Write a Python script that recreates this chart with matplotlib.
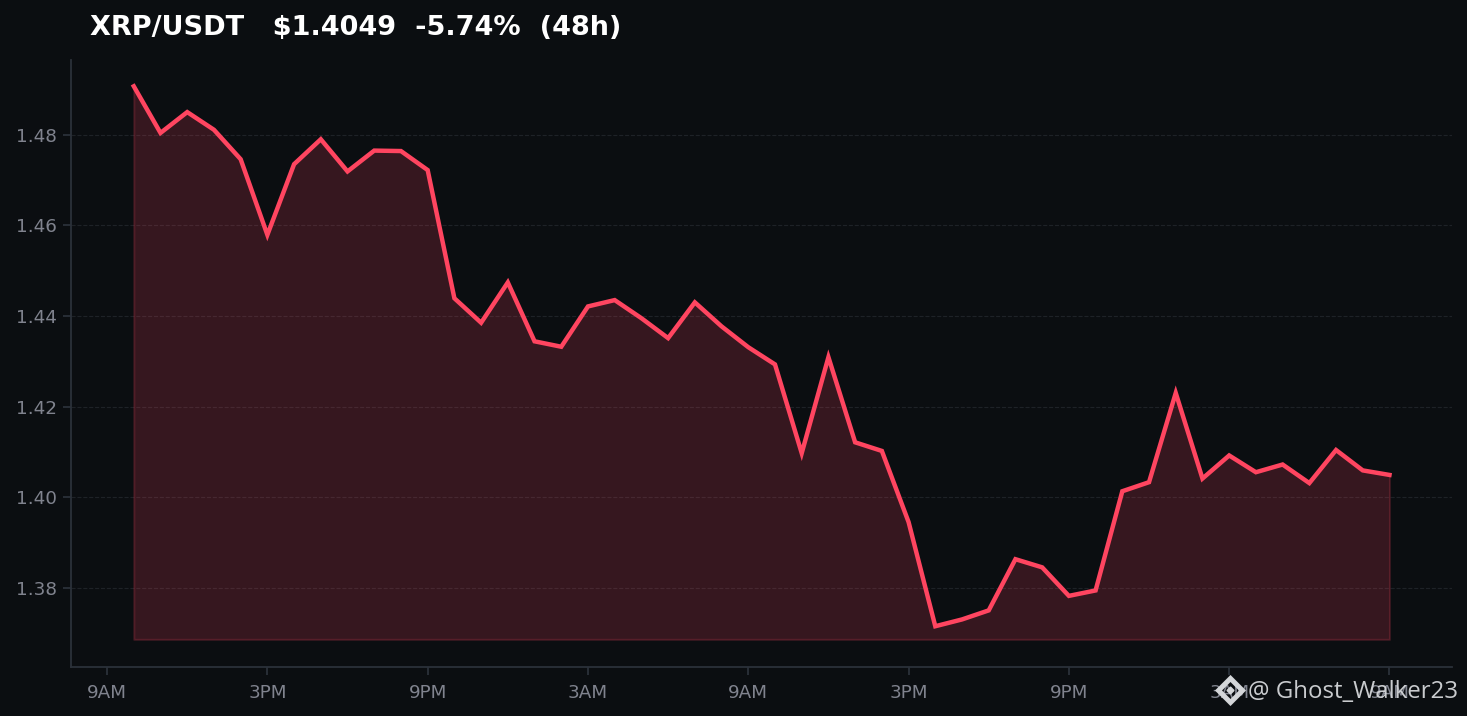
import matplotlib
matplotlib.use('Agg')
import matplotlib.pyplot as plt
from matplotlib.lines import Line2D

# hours since the 9AM tick on the left
hours = list(range(1, 49))
price = [1.4907, 1.4804, 1.4850, 1.4811, 1.4746, 1.4579, 1.4735, 1.4790,
         1.4719, 1.4765, 1.4764, 1.4722, 1.4439, 1.4385, 1.4474, 1.4344,
         1.4332, 1.4421, 1.4435, 1.4395, 1.4351, 1.4430, 1.4377, 1.4331,
         1.4293, 1.4097, 1.4309, 1.4121, 1.4102, 1.3945, 1.3715, 1.3730,
         1.3750, 1.3863, 1.3845, 1.3782, 1.3794, 1.4013, 1.4033, 1.4230,
         1.4041, 1.4092, 1.4055, 1.4072, 1.4031, 1.4104, 1.4059, 1.4049]
fill_base = 1.3686

x_ticks = [0, 6, 12, 18, 24, 30, 36, 42, 48]
x_labels = ['9AM', '3PM', '9PM', '3AM', '9AM', '3PM', '9PM', '3AM', '9AM']
y_ticks = [1.38, 1.40, 1.42, 1.44, 1.46, 1.48]

BG = '#0b0e11'
RED = '#ff4560'
SPINE = '#2b3139'
TICK = '#80838e'
W, H = 1467, 716

fig = plt.figure(figsize=(W / 100, H / 100), dpi=100, facecolor=BG)
ax = fig.add_axes([71 / W, 1 - 667 / H, (1452 - 71) / W, (667 - 60) / H], facecolor=BG)

ax.fill_between(hours, price, fill_base, color=RED, alpha=0.18, linewidth=1.5, zorder=2)
ax.plot(hours, price, color=RED, linewidth=3.2, solid_joinstyle='miter', zorder=3)

ax.set_xlim(-1.35, 50.34)
ax.set_ylim(1.3625, 1.4965)
ax.set_xticks(x_ticks)
ax.set_xticklabels(x_labels)
ax.set_yticks(y_ticks)
ax.set_yticklabels(['%.2f' % v for v in y_ticks])
ax.tick_params(labelcolor=TICK, labelsize=13.2, length=6, width=1.3, color=SPINE)
ax.tick_params(axis='y', pad=4)
ax.tick_params(axis='x', pad=6)
ax.grid(axis='y', color='#1e2227', linestyle='--', linewidth=0.8, zorder=1)
ax.set_axisbelow(True)

for side in ['top', 'right']:
    ax.spines[side].set_visible(False)
for side in ['left', 'bottom']:
    ax.spines[side].set_color(SPINE)
    ax.spines[side].set_linewidth(1.3)

fig.text(90 / W, 1 - 28 / H, 'XRP/USDT   $1.4049  -5.74%  (48h)', color='white',
         fontsize=19.5, fontweight='bold', va='center', ha='left')

# watermark, sits on top of the last tick labels
fig.text(1248 / W, 1 - 691.5 / H, '@ Ghost_Walker23', color='#d4d6d9', alpha=0.95,
         fontsize=17.3, family='Open Sans', va='center', ha='left', zorder=10)
icon_x, icon_y = 1230 / W, 1 - 690 / H
fig.add_artist(Line2D([icon_x], [icon_y], marker='D', markersize=12, markerfacecolor='none',
                      markeredgecolor='#d4d6d9', markeredgewidth=3.6, transform=fig.transFigure, zorder=10))
fig.add_artist(Line2D([icon_x], [icon_y], marker='D', markersize=3.5, color='#d4d6d9',
                      transform=fig.transFigure, zorder=10))

fig.savefig('out.png', dpi=100, facecolor=BG)
